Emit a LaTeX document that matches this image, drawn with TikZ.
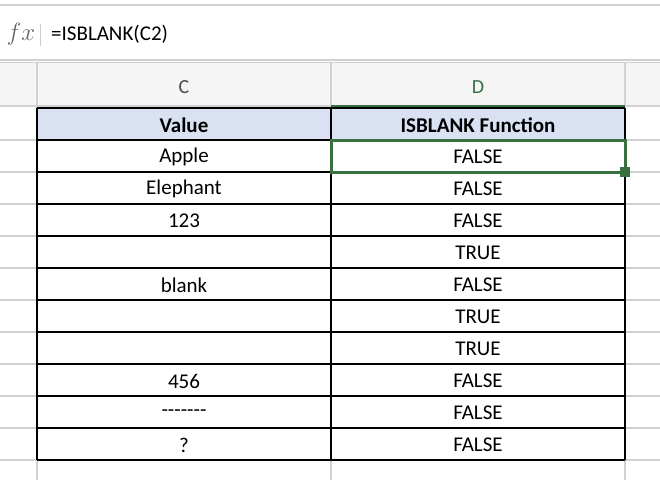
\documentclass[tikz,border=0pt]{standalone}
\usepackage{fontspec}
\setmainfont{Carlito}
\usepackage{tikz}
\definecolor{headblue}{RGB}{217,225,242}
\definecolor{selgreen}{RGB}{56,112,64}
\tikzset{
  grid/.style={draw=black!18, line width=1.5pt},
  cellline/.style={draw=black, line width=2pt},
  celltext/.style={font=\fontsize{21}{24}\selectfont, anchor=center, inner sep=0pt},
  colhead/.style={font=\fontsize{20}{23}\selectfont, text=black!70, inner sep=0pt},
  excelgreen/.style={draw=selgreen, line width=3pt}
}
\begin{document}
\begin{tikzpicture}[x=1pt,y=-1pt]
\useasboundingbox (0,0) rectangle (660,480);
\fill[white] (0,0) rectangle (660,480);
% formula bar
\draw[grid] (0,5) -- (660,5);
\draw[grid] (0,60) -- (660,60);
\draw[grid] (0,63) -- (660,63);
\node[font=\fontsize{24}{26}\selectfont, text=black!60] (fx) at (21,34) {$fx$};
\draw[black!20, line width=1pt] (40,24) -- (40,46);
\node[celltext, anchor=west, font=\fontsize{21}{24}\selectfont] (formula) at (51,34) {=ISBLANK(C2)};
% column header strip
\fill[black!4] (0,63) rectangle (660,106);
\draw[grid] (0,106) -- (660,106);
\foreach \x in {37,331,625} \draw[grid] (\x,63) -- (\x,480);
\node[colhead] (hc) at (184,87) {C};
\node[colhead, text=selgreen] (hd) at (478,87) {D};
\draw[excelgreen] (331,106) -- (625,106);
% row grid lines outside table
\foreach \y in {140,172,204,236,268,300,332,364,396,428,460} {
  \draw[grid] (0,\y) -- (37,\y);
  \draw[grid] (625,\y) -- (660,\y);
}
% table header
\fill[headblue] (37,108) rectangle (625,140);
\node[celltext, font=\fontsize{21}{24}\selectfont\bfseries] (value) at (184,125) {Value};
\node[celltext, font=\fontsize{21}{24}\selectfont\bfseries] (func) at (478,125) {ISBLANK Function};
% table rows
\foreach \v/\r [count=\i] in {Apple/FALSE, Elephant/FALSE, 123/FALSE, /TRUE, blank/FALSE, /TRUE, /TRUE, 456/FALSE, -{}-{}-{}-{}-{}-{}-/FALSE, ?/FALSE} {
  \node[celltext] (v\i) at (184,157+32*\i-32) {\v};
  \node[celltext] (r\i) at (478,157+32*\i-32) {\r};
}
% borders
\foreach \y in {108,140,172,204,236,268,300,332,364,396,428,460} \draw[cellline] (37,\y) -- (625,\y);
\foreach \x in {37,331,625} \draw[cellline] (\x,108) -- (\x,460);
% active cell
\draw[excelgreen] (331,140) rectangle (625,172);
\fill[selgreen] (620,167) rectangle (630,177);
\end{tikzpicture}
\end{document}
